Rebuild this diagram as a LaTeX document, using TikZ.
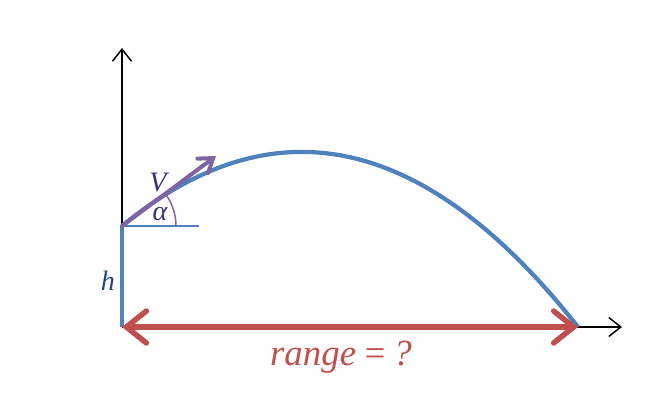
\documentclass[tikz,border=0pt]{standalone}
\usepackage{fontspec}
\setmainfont{Liberation Serif}
\usetikzlibrary{arrows.meta,positioning}
\definecolor{pathcolor}{RGB}{79,129,189}
\definecolor{rangecolor}{RGB}{192,80,77}
\definecolor{velcolor}{RGB}{128,100,162}
\definecolor{vtextcolor}{RGB}{60,45,120}
\definecolor{htextcolor}{RGB}{31,73,125}

\begin{document}
\begin{tikzpicture}[
    x=0.02cm, y=-0.02cm,
    axis/.style={-{Straight Barb[length=2.4mm, width=3.8mm]}, black, line width=0.3mm},
    traj/.style={pathcolor, line width=0.85mm},
    velarrow/.style={-{Straight Barb[length=2.6mm, width=3.6mm, line cap=round]}, velcolor, line width=0.8mm, line cap=round},
    rangearrow/.style={{Straight Barb[length=4mm, width=6.4mm, line cap=round]}-{Straight Barb[length=4mm, width=6.4mm, line cap=round]}, rangecolor, line width=1.1mm},
    lbl/.style={font=\fontsize{16}{18}\selectfont\itshape, inner sep=0pt}
]
    \useasboundingbox (0,0) rectangle (658,408);

    % Points
    \coordinate (O) at (122,327);
    \coordinate (ytop) at (122,48);
    \coordinate (xend) at (622,327);
    \coordinate (launch) at (122,226);
    \coordinate (flat) at (199,226);
    \coordinate (vtip) at (216,156);
    \coordinate (land) at (578,327);

    % Axes
    \draw[axis] (O) -- (ytop);
    \draw[axis] (O) -- (xend);

    % Height
    \draw[traj] (O) -- (launch);

    % Trajectory
    \draw[traj] (launch) .. controls (274,100.7) and (426,134.3) .. (land);

    % Angle
    \draw[pathcolor, line width=0.3mm] (launch) -- (flat);
    \draw[velcolor, line width=0.3mm] (launch) ++(54,0) arc[start angle=0, end angle=-37, radius=54];

    % Velocity
    \draw[velarrow] (launch) -- (vtip);

    % Range
    \draw[rangearrow] (O) -- (land);

    % Labels
    \node[lbl, text=vtextcolor] (vlbl) at (158,183) {V};
    \node[lbl, text=vtextcolor] (albl) at (160,214) {α};
    \node[lbl, text=htextcolor] (hlbl) at (108,281) {h};
    \node[font=\fontsize{21}{24}\selectfont\itshape, text=rangecolor, inner sep=0pt] (rlbl) at (341,357) {range\,=\,?};
\end{tikzpicture}
\end{document}
